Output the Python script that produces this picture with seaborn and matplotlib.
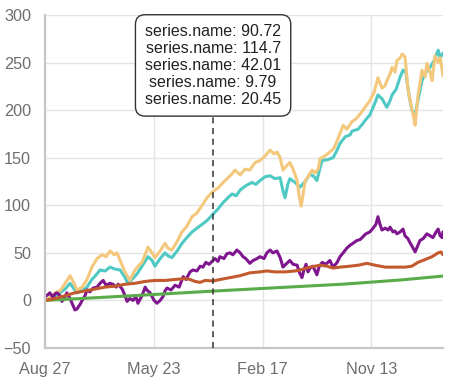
import matplotlib
matplotlib.use("Agg")
import matplotlib.pyplot as plt
import seaborn as sns

# day index counted from Aug 27
teal_days = [0, 12, 25, 37, 50, 62, 72, 79, 92, 104, 116, 129, 136, 149, 161, 173, 186, 198, 205, 215,
             228, 240, 255, 265, 272, 285, 297, 304, 314, 327, 339, 351, 364, 376, 389, 401, 416, 428, 441, 453,
             463, 473, 483, 495, 512, 522, 532, 545, 557, 569, 582, 589, 594, 601, 606, 619, 631, 644, 656, 666,
             673, 681, 686, 700, 713, 723, 730, 743, 755, 760, 775, 785, 792, 804, 809, 817, 824, 834, 846, 854,
             859, 869, 879, 886, 893, 901, 908, 916, 923, 933, 943, 953, 963, 973, 978, 985]
teal_vals = [0, 2, 5, 8, 12, 18, 12, 8, 10, 14, 22, 28, 32, 31, 35, 33, 32, 24, 18, 22,
             28, 36, 46, 42, 36, 44, 50, 47, 45, 52, 60, 66, 72, 76, 80, 84, 90.72, 96, 103, 108,
             112, 110, 116, 120, 124, 122, 126, 130, 131, 128, 129, 115, 108, 122, 128, 124, 119, 125, 133, 130,
             126, 140, 147, 148, 150, 158, 165, 172, 174, 178, 180, 185, 189, 195, 200, 208, 216, 212, 203, 210,
             216, 222, 235, 242, 240, 215, 200, 195, 210, 231, 240, 245, 252, 263, 255, 260]

yellow_days = [0, 12, 25, 37, 50, 62, 72, 79, 92, 104, 116, 129, 141, 151, 161, 171, 178, 188, 198, 210,
               220, 230, 240, 255, 265, 272, 285, 297, 304, 314, 327, 339, 351, 364, 376, 389, 401, 416, 428, 441,
               453, 463, 470, 483, 495, 507, 520, 532, 545, 557, 567, 574, 582, 589, 599, 606, 614, 624, 629, 634,
               639, 644, 651, 661, 668, 676, 681, 693, 705, 715, 725, 738, 747, 760, 770, 780, 792, 804, 814, 824,
               834, 842, 846, 854, 859, 866, 871, 879, 884, 891, 898, 906, 911, 916, 923, 928, 933, 941, 945, 953,
               958, 965, 973, 978, 985]
yellow_vals = [0, 3, 8, 10, 18, 26, 18, 11, 14, 22, 35, 44, 48, 46, 52, 48, 50, 40, 30, 21,
               30, 36, 40, 56, 50, 45, 52, 60, 55, 53, 62, 72, 78, 88, 92, 100, 108, 114.7, 118, 124,
               129, 133, 137, 132, 138, 137, 145, 147, 152, 158, 154, 156, 150, 137, 142, 145, 138, 126, 110, 99,
               112, 126, 130, 137, 134, 138, 149, 152, 156, 160, 170, 184, 180, 188, 191, 196, 203, 210, 218, 234,
               223, 226, 231, 238, 245, 240, 252, 255, 259, 256, 223, 205, 195, 184, 215, 228, 242, 235, 249, 240,
               231, 257, 250, 255, 236]

purple_days = [0, 7, 12, 20, 25, 30, 37, 42, 50, 54, 62, 69, 74, 79, 87, 92, 99, 104, 111, 119,
               129, 136, 144, 151, 161, 168, 176, 181, 191, 198, 203, 210, 218, 225, 230, 240, 248, 252, 260, 270,
               277, 285, 292, 297, 302, 312, 322, 332, 342, 349, 359, 366, 376, 384, 391, 398, 406, 416, 421, 428,
               433, 443, 450, 458, 465, 475, 483, 490, 497, 507, 515, 525, 532, 542, 549, 557, 564, 574, 582, 589,
               596, 606, 614, 624, 629, 636, 641, 646, 651, 656, 663, 673, 678, 686, 695, 705, 713, 723, 730, 738,
               747, 755, 762, 772, 780, 787, 794, 804, 812, 819, 824, 829, 834, 842, 849, 854, 861, 866, 871, 879,
               886, 891, 898, 903, 911, 916, 921, 928, 936, 945, 953, 960, 968, 973, 978, 983, 985]
purple_vals = [4, 6, 8, 3, 7, 8, 5, -1, 4, 8, 2, -5, -10, -9, -4, 0, 5, 11, 9, 13,
               14, 18, 21, 16, 18, 17, 14, 17, 12, 5, -1, 2, 0, 4, -3, 5, 14, 11, 8, 0,
               -3, 0, 4, 10, 13, 11, 16, 14, 25, 22, 30, 32, 31, 36, 35, 40, 38, 42.01, 44, 41,
               46, 44, 49, 50, 48, 53, 50, 46, 44, 39, 42, 44, 46, 44, 50, 53, 50, 52, 45, 35,
               38, 42, 38, 37, 30, 24, 32, 38, 30, 34, 36, 27, 35, 40, 38, 42, 35, 40, 46, 50,
               55, 58, 60, 63, 64, 67, 70, 72, 76, 80, 88, 80, 74, 76, 74, 77, 72, 73, 70, 72,
               75, 68, 65, 61, 55, 51, 56, 63, 65, 70, 68, 66, 72, 75, 68, 66, 72]

green_days = [0, 210, 416, 557, 742, 880, 985]
green_vals = [0, 4.8, 9.79, 13, 17.2, 21.5, 25.6]

brown_days = [0, 25, 50, 74, 99, 124, 149, 173, 198, 223, 248, 272, 297, 322, 347, 359, 371, 384, 396, 416,
              433, 458, 483, 507, 532, 549, 569, 594, 619, 631, 656, 681, 698, 713, 730, 755, 775, 797, 817, 842,
              866, 891, 908, 923, 941, 958, 973, 980, 985]
brown_vals = [0, 2, 5, 8, 10, 12, 14, 15, 17, 18, 20, 21, 21, 22, 23, 22, 20, 19, 21, 20.45,
              22, 24, 26, 29, 30, 31, 30, 30, 31, 32, 35, 37, 36, 34, 35, 36, 37, 39, 37, 35,
              35, 35, 36, 40, 43, 46, 50, 51, 48]

tick_days = [0, 269, 539, 808]
tick_labels = ["Aug 27", "May 23", "Feb 17", "Nov 13"]
hover_day = 416
tooltip_values = [90.72, 114.7, 42.01, 9.79, 20.45]

series = [
    (teal_days, teal_vals, "#4fc9c3"),
    (yellow_days, yellow_vals, "#f4c87c"),
    (purple_days, purple_vals, "#80168f"),
    (green_days, green_vals, "#5aab4a"),
    (brown_days, brown_vals, "#c35a2e"),
]

sns.set_style("white")
plt.rcParams["font.family"] = ["Liberation Sans", "DejaVu Sans"]

fig = plt.figure(figsize=(4.74, 3.9), dpi=100)
ax = fig.add_axes([45 / 474, 42 / 390, 398 / 474, 333 / 390])

for days, vals, color in series:
    sns.lineplot(x=days, y=vals, color=color, linewidth=2.2, ax=ax,
                 solid_joinstyle="round", solid_capstyle="round")

ax.set_xlim(0, 985)
ax.set_ylim(-50, 300)
ax.set_yticks(range(-50, 301, 50))
ax.set_xticks(tick_days, tick_labels)
ax.grid(True, color="#e4e4e4", linewidth=1)
ax.set_axisbelow(True)
for side in ["top", "right"]:
    ax.spines[side].set_visible(False)
for side in ["left", "bottom"]:
    ax.spines[side].set_color("#c6c6c6")
    ax.spines[side].set_linewidth(1.6)
ax.tick_params(axis="both", length=5, width=1.2, color="#c6c6c6",
               labelcolor="#6e6e6e", labelsize=11.7, pad=5)

# hover line + tooltip
ax.axvline(hover_day, color="#333333", linewidth=1.1, linestyle=(0, (4, 3)), zorder=5)
tip = "\n".join(f"series.name: {v}" for v in tooltip_values)
ax.text(hover_day, 247, tip, ha="center", va="center", multialignment="center",
        fontsize=11.5, color="#222222", linespacing=1.15, zorder=10,
        bbox=dict(boxstyle="round,pad=0.6,rounding_size=0.6", fc="white", ec="#333333", lw=1))

fig.savefig("out.png", dpi=100)
